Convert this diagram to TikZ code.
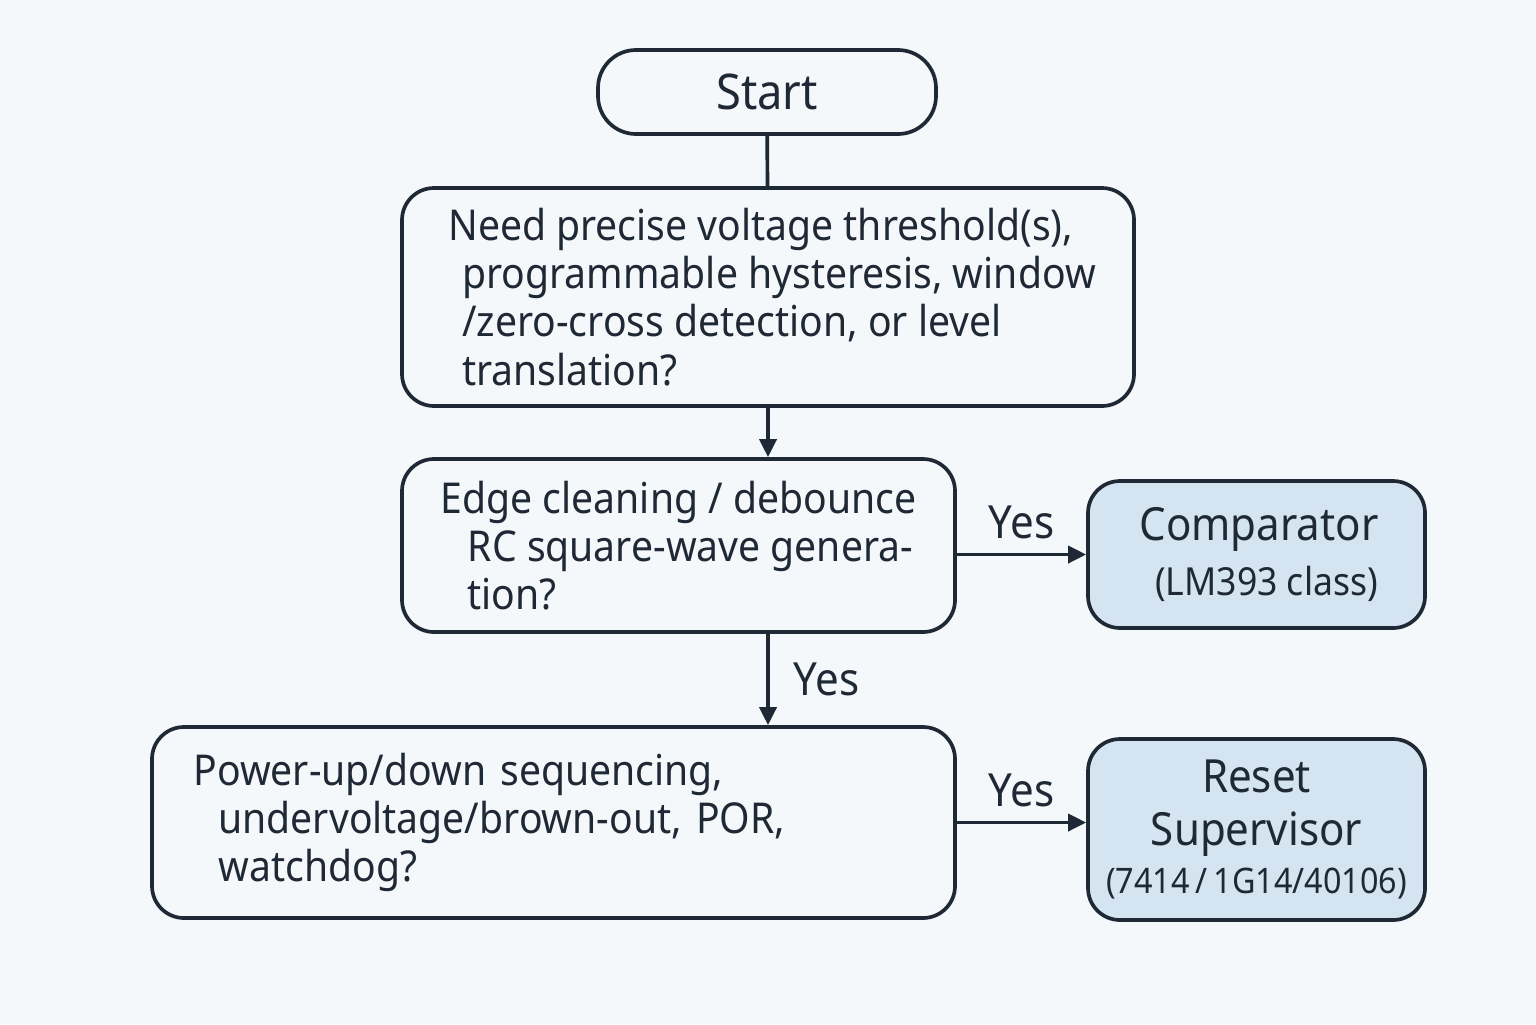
\documentclass[tikz,border=0pt]{standalone}
\usepackage{fontspec}
\setmainfont[FakeStretch=0.92]{Noto Sans}
\usepackage{xcolor}
\usetikzlibrary{arrows.meta, positioning}
\definecolor{ink}{HTML}{1F2935}
\definecolor{boxblue}{HTML}{D5E4F1}
\definecolor{paper}{HTML}{F5F8FA}

\begin{document}
\begin{tikzpicture}[
    font=\fontsize{12.1}{13.7}\selectfont,
    text=ink,
    terminal/.style={draw=ink, line width=1.05pt, rounded corners=0.38cm, minimum width=3.38cm, minimum height=0.84cm, font=\fontsize{14}{16}\selectfont},
    question/.style={draw=ink, line width=1.05pt, rounded corners=0.32cm, align=left, inner sep=0pt},
    result/.style={draw=ink, line width=1.05pt, rounded corners=0.32cm, align=center, inner sep=0pt, fill=boxblue, minimum width=3.37cm},
    arrow/.style={-{Triangle[length=1.8mm, width=1.7mm]}, line width=1.05pt, draw=ink},
    yes/.style={font=\fontsize{13}{15}\selectfont}
]
\fill[paper] (0,0) rectangle (15.36,-10.24);

\node[terminal] (start) at (7.67,-0.92) {Start};
\node[question, minimum width=7.32cm, minimum height=2.18cm] (need) at (7.68,-2.97)
    {\hspace*{0.08cm}Need precise voltage threshold(s),\\
     \hspace*{0.22cm}programmable hysteresis, window\\
     \hspace*{0.22cm}/zero-cross detection, or level\\
     \hspace*{0.22cm}translation?};
\node[question, minimum width=5.53cm, minimum height=1.73cm] (edge) at (6.785,-5.455)
    {Edge cleaning / debounce\\
     \hspace*{0.27cm}RC square-wave genera-\\
     \hspace*{0.27cm}tion?};
\node[question, text width=7.2cm, minimum width=8.03cm, minimum height=1.91cm] (power) at (5.535,-8.225)
    {Power-up/down sequencing,\\
     \hspace*{0.25cm}undervoltage/brown-out, POR,\\
     \hspace*{0.25cm}watchdog?};
\node[result, minimum height=1.47cm] (comp) at (12.565,-5.545)
    {{\fontsize{13}{15}\selectfont\hspace*{0.05cm}Comparator}\\[2pt]
     {\fontsize{11}{13}\selectfont\hspace*{0.2cm}(LM393 class)}};
\node[result, minimum height=1.81cm] (reset) at (12.565,-8.295)
    {{\fontsize{13}{15}\selectfont Reset}\\[1.5pt]
     {\fontsize{13}{15}\selectfont Supervisor}\\[0pt]
     {\fontsize{10}{12}\selectfont (7414\,/\,1G14/40106)}};

% connectors
\draw[line width=1.05pt, draw=ink] (start) -- (need);
\draw[arrow] (need.south) -- (need.south |- edge.north);
\draw[arrow] (need.south |- edge.south) -- (need.south |- power.north)
    node[yes, midway, right=0.12cm] (yes2) {Yes};
\draw[arrow] (comp.west -| edge.east) -- (comp.west)
    node[yes, midway, above=0.02cm] (yes1) {Yes};
\draw[arrow] (power.east) -- (power.east -| reset.west)
    node[yes, midway, above=0.02cm] (yes3) {Yes};

\end{tikzpicture}
\end{document}
